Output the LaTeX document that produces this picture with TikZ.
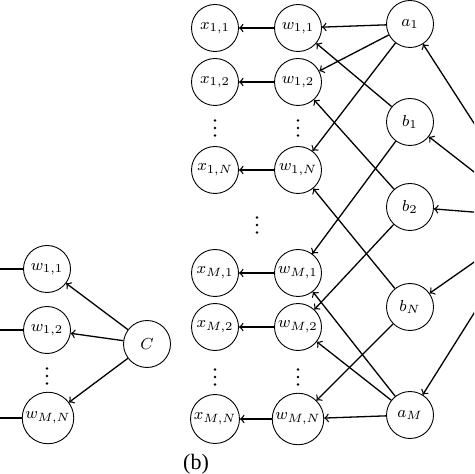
\documentclass[tikz,border=0pt]{standalone}
\usepackage{fontspec}
\newfontfamily\capfont{Liberation Serif}
\begin{document}
\begin{tikzpicture}[x=0.5pt,y=-0.5pt,
  var/.style={circle,draw,line width=0.45pt,inner sep=1pt,minimum size=23.5pt,font=\fontsize{8.5}{10}\selectfont},
  edge/.style={->,line width=0.65pt},
  plain/.style={line width=0.65pt},
  vd/.style={fill,circle,inner sep=0pt,minimum size=1.3pt}]
\useasboundingbox (0,0) rectangle (474,474);
\clip (0,0) rectangle (474,474);
\newcommand\vdts[3]{%
  \node[vd] (#1a) at (#2,#3-7.5) {};
  \node[vd] (#1b) at (#2,#3) {};
  \node[vd] (#1c) at (#2,#3+7.5) {};}
% ---------- left panel ----------
\node[var] (Lw11) at (47,269) {$w_{1,1}$};
\node[var] (Lw12) at (47,330) {$w_{1,2}$};
\vdts{Ld}{47}{376}
\node[var] (LwMN) at (48,418) {$w_{M,N}$};
\node[var] (C) at (147,344) {$C$};
\coordinate (L1) at (-40,269);
\coordinate (L2) at (-40,330);
\coordinate (L3) at (-40,418);
\draw[plain] (Lw11) -- (L1);
\draw[plain] (Lw12) -- (L2);
\draw[plain] (LwMN) -- (L3);
\draw[edge] (C) -- (Lw11);
\draw[edge] (C) -- (Lw12);
\draw[edge] (C) -- (LwMN);
% ---------- right panel ----------
\node[var] (x11) at (215,28) {$x_{1,1}$};
\node[var] (x12) at (215,82) {$x_{1,2}$};
\vdts{xda}{215}{128}
\node[var] (x1N) at (215,170) {$x_{1,N}$};
\node[var] (w11) at (298,28) {$w_{1,1}$};
\node[var] (w12) at (298,82) {$w_{1,2}$};
\vdts{wda}{298}{128}
\node[var] (w1N) at (298,170) {$w_{1,N}$};
\vdts{gd}{257}{225}
\node[var] (xM1) at (215,273) {$x_{M,1}$};
\node[var] (xM2) at (215,327) {$x_{M,2}$};
\vdts{xdb}{215}{377}
\node[var] (xMN) at (215,419) {$x_{M,N}$};
\node[var] (wM1) at (298,273) {$w_{M,1}$};
\node[var] (wM2) at (298,327) {$w_{M,2}$};
\vdts{wdb}{298}{377}
\node[var] (wMN) at (298,419) {$w_{M,N}$};
\node[var] (a1) at (410,24) {$a_1$};
\node[var] (b1) at (410,122) {$b_1$};
\node[var] (b2) at (410,207) {$b_2$};
\node[var] (bN) at (410,307) {$b_N$};
\node[var] (aM) at (410,415) {$a_M$};
\node[font=\capfont\fontsize{11}{12}\selectfont] (lab) at (196,464) {(b)};
% w -> x
\draw[edge] (w11) -- (x11);
\draw[edge] (w12) -- (x12);
\draw[edge] (w1N) -- (x1N);
\draw[edge] (wM1) -- (xM1);
\draw[edge] (wM2) -- (xM2);
\draw[edge] (wMN) -- (xMN);
% a, b -> w
\draw[edge] (a1) -- (w11);
\draw[edge] (a1) -- (w12);
\draw[edge] (a1) -- (w1N);
\draw[edge] (b1) -- (w11);
\draw[edge] (b1) -- (wM1);
\draw[edge] (b2) -- (w12);
\draw[edge] (b2) -- (wM2);
\draw[edge] (bN) -- (w1N);
\draw[edge] (bN) -- (wMN);
\draw[edge] (aM) -- (wM1);
\draw[edge] (aM) -- (wM2);
\draw[edge] (aM) -- (wMN);
% from off-picture on the right
\coordinate (R1) at (510,179);
\coordinate (R2) at (510,200);
\coordinate (R3) at (510,215);
\coordinate (R4) at (510,237);
\coordinate (R5) at (510,256);
\draw[edge] (R1) -- (a1);
\draw[edge] (R2) -- (b1);
\draw[edge] (R3) -- (b2);
\draw[edge] (R4) -- (bN);
\draw[edge] (R5) -- (aM);
\end{tikzpicture}
\end{document}
